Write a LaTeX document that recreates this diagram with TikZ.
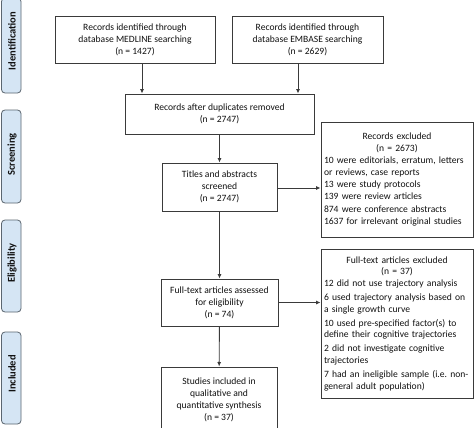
\documentclass[tikz,border=0pt]{standalone}
\usepackage{fontspec}
\setmainfont{Carlito}
\usetikzlibrary{arrows.meta}
\definecolor{tabfill}{HTML}{D5E5F4}
\definecolor{tabdraw}{HTML}{5B6670}
\definecolor{boxdraw}{HTML}{3A3A3A}
\definecolor{txt}{HTML}{111111}
\hbadness=10000 \hfuzz=20pt
\begin{document}
\begin{tikzpicture}[x=1pt,y=-1pt,
  box/.style={draw=boxdraw, line width=0.9pt, fill=white, inner sep=0pt, align=center,
    font=\fontsize{9.6}{12}\selectfont, text=txt},
  listbox/.style={draw=boxdraw, line width=0.9pt, fill=white, inner xsep=3pt, inner ysep=0pt,
    align=left, text width=146pt, font=\fontsize{9.6}{11.8}\selectfont, text=txt},
  tab/.style={draw=tabdraw, fill=tabfill, rounded corners=3.5pt, line width=0.8pt},
  tablabel/.style={rotate=90, font=\bfseries\fontsize{10.5}{12}\selectfont, text=txt},
  arr/.style={-{Latex[length=4.5pt,width=4pt]}, draw=boxdraw, line width=0.9pt}]
\useasboundingbox (0,0) rectangle (474,428);
\clip (0,0) rectangle (474,428);
\fill[white] (0,0) rectangle (474,428);

% phase tabs
\node[tab, minimum width=19.5pt, minimum height=95pt] (tid) at (11.25,45.5) {};
\node[tablabel] (lid) at (12,41) {Identification};
\node[tab, minimum width=19.5pt, minimum height=93pt] (tsc) at (11.25,156.5) {};
\node[tablabel] (lsc) at (12,154.5) {Screening};
\node[tab, minimum width=19.5pt, minimum height=92pt] (tel) at (11.25,266) {};
\node[tablabel] (lel) at (12,263) {Eligibility};
\node[tab, minimum width=19.5pt, minimum height=92pt] (tin) at (11.25,378) {};
\node[tablabel] (lin) at (12,374) {Included};

% boxes
\node[box, minimum width=160pt, minimum height=47pt] (med) at (135,39.5)
  {Records identified through\\database MEDLINE searching\\(n = 1427)};
\node[box, minimum width=151pt, minimum height=47pt] (emb) at (307.5,39.5)
  {Records identified through\\database EMBASE searching\\(n = 2629)};
\node[box, minimum width=189pt, minimum height=40pt] (dup) at (219.5,114)
  {Records after duplicates removed\\(n = 2747)};
\node[box, minimum width=115pt, minimum height=48pt] (tit) at (219.5,187)
  {Titles and abstracts\\screened\\(n = 2747)};
\node[box, minimum width=117pt, minimum height=47pt] (ful) at (219.5,302.5)
  {Full-text articles assessed\\for eligibility\\(n = 74)};
\node[box, minimum width=116pt, minimum height=65pt] (stu) at (219,399.5)
  {Studies included in\\qualitative and\\quantitative synthesis\\(n = 37)};
\node[listbox, minimum height=115pt] (ex1) at (397,179.5)
  {{\centering Records excluded\\(n = 2673)\par}
   10 were editorials, erratum, letters\\or reviews, case reports\\[0.5pt]
   13 were study protocols\\[0.5pt]
   139 were review articles\\[0.5pt]
   874 were conference abstracts\\[0.5pt]
   \mbox{1637 for irrelevant original studies}};
\node[listbox, minimum height=149pt] (ex2) at (397,323.5)
  {{\centering Full-text articles excluded\\(n = 37)\par}
   \mbox{12 did not use trajectory analysis}\\[2pt]
   \mbox{6 used trajectory analysis based on}\\a single growth curve\\[2pt]
   \mbox{10 used pre-specified factor(s) to}\\\mbox{define their cognitive trajectories}\\[2pt]
   2 did not investigate cognitive\\trajectories\\[2pt]
   \mbox{7 had an ineligible sample (i.e.\ non-}\\general adult population)};

% connectors
\draw[arr] ([xshift=7pt]med.south) -- ([xshift=7pt]med.south |- dup.north);
\draw[arr] ([xshift=-9.5pt]emb.south) -- ([xshift=-9.5pt]emb.south |- dup.north);
\draw[arr] (dup) -- (tit);
\draw[arr] (tit.east |- 0,188) -- (ex1.west |- 0,188);
\draw[arr] (tit) -- (ful);
\draw[arr] (ful) -- (ex2.west |- ful.east);
\draw[arr] (ful) -- (stu);
\end{tikzpicture}
\end{document}
